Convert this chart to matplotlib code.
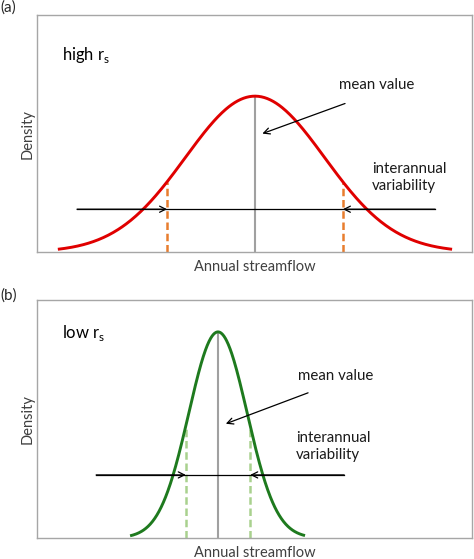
import numpy as np
import matplotlib

matplotlib.use("Agg")
import matplotlib.pyplot as plt

plt.rcParams["font.family"] = ["Lato", "DejaVu Sans"]

# Schematic annual-streamflow densities, x in arbitrary units 0..100, y as box fraction
panel_labels = ["(a)", "(b)"]
regime_labels = ["high r$_\\mathregular{s}$", "low r$_\\mathregular{s}$"]
mean_flow = [50.1, 41.6]
sd_flow = [16.0, 6.7]
peak_density = [0.658, 0.866]
curve_range = [(4.8, 95.4), (21.4, 61.6)]
band_offset = [20.2, 7.4]
arrow_level = [0.181, 0.265]
arrow_span = [(9.2, 91.5), (13.6, 70.6)]
mean_text_xy = [(69.5, 0.705), (60.0, 0.68)]
mean_arrow_from = [(70.8, 0.627), (62.3, 0.61)]
mean_arrow_to = [(51.8, 0.50), (43.4, 0.48)]
var_text_xy = [(77.0, 0.315), (59.5, 0.385)]
curve_colors = ["#e00000", "#1e7a1e"]
band_colors = ["#e87d2e", "#a9d18e"]

fig = plt.figure(figsize=(4.74, 5.59), dpi=100)
boxes = [[0.078, 0.549, 0.918, 0.424], [0.078, 0.0376, 0.918, 0.4257]]

for i in range(2):
    ax = fig.add_axes(boxes[i])
    ax.set_xlim(0, 100)
    ax.set_ylim(0, 1)
    ax.set_xticks([])
    ax.set_yticks([])
    for s in ax.spines.values():
        s.set_color("#a6a6a6")
        s.set_linewidth(1.0)

    mu, sd, pk = mean_flow[i], sd_flow[i], peak_density[i]
    x = np.linspace(curve_range[i][0], curve_range[i][1], 400)
    y = pk * np.exp(-0.5 * ((x - mu) / sd) ** 2)

    ax.plot([mu, mu], [0, pk], color="#a0a0a0", lw=1.5, zorder=2)
    for sign in (-1, 1):
        xb = mu + sign * band_offset[i]
        yb = pk * np.exp(-0.5 * ((xb - mu) / sd) ** 2)
        ax.plot([xb, xb], [0, yb], color=band_colors[i], lw=1.8,
                ls=(0, (3, 1.5)), zorder=2)
    ax.plot(x, y, color=curve_colors[i], lw=2.1, zorder=3, solid_capstyle="butt")

    # interannual variability: one line with inward-pointing heads at the bands
    lvl = arrow_level[i]
    left, right = arrow_span[i]
    ax.plot([left, right], [lvl, lvl], color="black", lw=0.9, zorder=4)
    for start, sign in ((left, -1), (right, 1)):
        xb = mu + sign * band_offset[i]
        ax.annotate("", xy=(xb, lvl), xytext=(start, lvl),
                    arrowprops=dict(arrowstyle="->", color="black", lw=0.9,
                                    shrinkA=0, shrinkB=0, mutation_scale=11),
                    zorder=4)

    ax.annotate("", xy=mean_arrow_to[i], xytext=mean_arrow_from[i],
                arrowprops=dict(arrowstyle="->", color="black", lw=0.9,
                                shrinkA=0, shrinkB=0, mutation_scale=11))
    ax.text(*mean_text_xy[i], "mean value", fontsize=10.8, color="#1a1a1a",
            ha="left", va="center")
    ax.text(*var_text_xy[i], "interannual\nvariability", fontsize=10.8,
            color="#1a1a1a", ha="left", va="center", linespacing=1.25)
    ax.text(5.7, 0.83 if i == 0 else 0.86, regime_labels[i], fontsize=12,
            color="black", ha="left", va="center")

    ax.set_ylabel("Density", fontsize=10.5, color="#404040", labelpad=2)
    ax.set_xlabel("Annual streamflow", fontsize=10.5, color="#404040", labelpad=6)

fig.text(0.0, 0.986, panel_labels[0], fontsize=11, color="#262626", va="center")
fig.text(0.0, 0.472, panel_labels[1], fontsize=11, color="#262626", va="center")

fig.savefig("out.png", dpi=100)
